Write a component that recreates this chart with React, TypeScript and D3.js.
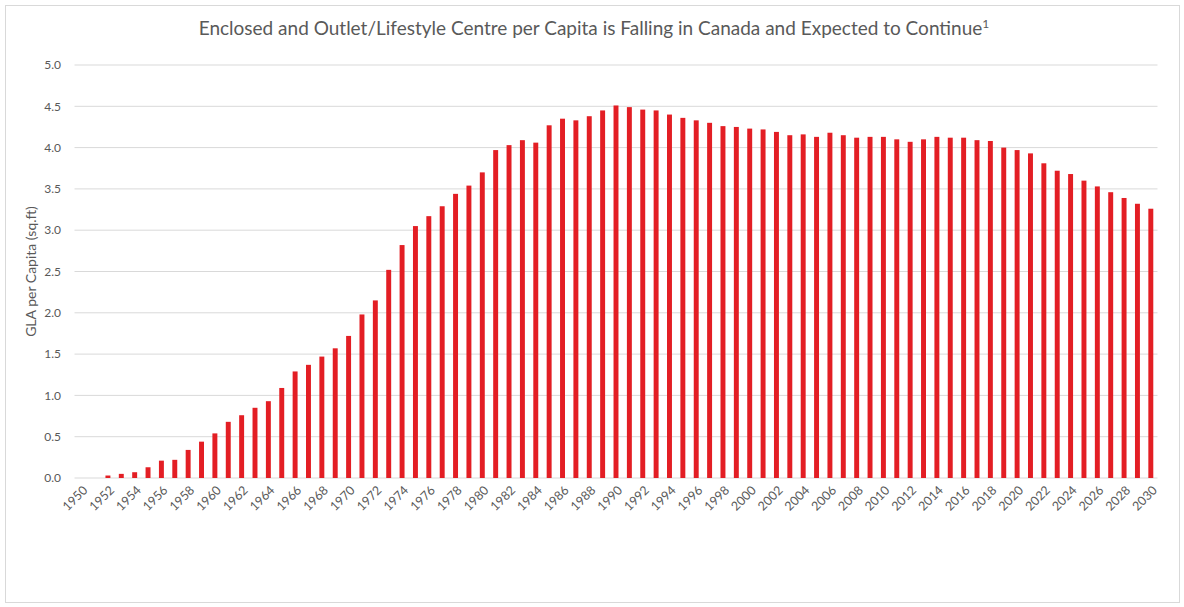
import React from "react";
import * as d3 from "d3";

const years: number[] = d3.range(1950, 2031);
const values: number[] = [
  0, 0, 0.03, 0.05, 0.07, 0.13, 0.21, 0.22, 0.34, 0.44,
  0.54, 0.68, 0.76, 0.85, 0.93, 1.09, 1.29, 1.37, 1.47, 1.57,
  1.72, 1.98, 2.15, 2.52, 2.82, 3.05, 3.17, 3.29, 3.44, 3.54,
  3.70, 3.97, 4.03, 4.09, 4.06, 4.27, 4.35, 4.33, 4.38, 4.45,
  4.51, 4.49, 4.46, 4.45, 4.40, 4.36, 4.33, 4.30, 4.26, 4.25,
  4.23, 4.22, 4.19, 4.15, 4.16, 4.13, 4.18, 4.15, 4.12, 4.13,
  4.13, 4.10, 4.07, 4.10, 4.13, 4.12, 4.12, 4.09, 4.08, 4.00,
  3.97, 3.93, 3.81, 3.72, 3.68, 3.60, 3.53, 3.46, 3.39, 3.32,
  3.26,
];
const yTicks: number[] = [0, 0.5, 1, 1.5, 2, 2.5, 3, 3.5, 4, 4.5, 5];
const title = "Enclosed and Outlet/Lifestyle Centre per Capita is Falling in Canada and Expected to Continue";
const yTitle = "GLA per Capita (sq.ft)";

const W = 1184;
const H = 607;
const M = { left: 74.5, right: 1157.5, top: 65, bottom: 478 };
const FONT = "Lato, 'Open Sans', sans-serif";
const TEXT = "#595959";
const GRID = "#d9d9d9";
const RED = "#e31e24";

export default function App() {
  const x = d3
    .scaleBand<string>()
    .domain(years.map(String))
    .range([M.left, M.right])
    .paddingInner(0.63)
    .paddingOuter(0.315);
  const y = d3.scaleLinear().domain([0, 5]).range([M.bottom, M.top]);

  return (
    <div style={{ position: "fixed", left: 0, top: 0 }}>
      <svg width={W} height={H} style={{ display: "block", background: "#fff" }}>
        <rect x={5.5} y={5.5} width={1174} height={597} fill="#fff" stroke={GRID} strokeWidth={1} />
        <text
          x={594}
          y={34.5}
          textAnchor="middle"
          fontFamily={FONT}
          fontSize={19}
          fill={TEXT}
        >
          {title}
          <tspan fontSize={12} dy={-7}>1</tspan>
        </text>
        {yTicks.map((t) => (
          <g key={t}>
            <line x1={M.left} x2={M.right} y1={y(t)} y2={y(t)} stroke={GRID} strokeWidth={1} />
            <text
              x={61}
              y={y(t)}
              dy="0.35em"
              textAnchor="end"
              fontFamily={FONT}
              fontSize={12}
              fill={TEXT}
            >
              {t.toFixed(1)}
            </text>
          </g>
        ))}
        <text
          transform={`translate(36,${(M.top + M.bottom) / 2}) rotate(-90)`}
          textAnchor="middle"
          fontFamily={FONT}
          fontSize={14}
          fill={TEXT}
        >
          {yTitle}
        </text>
        {years.map((yr, i) =>
          values[i] > 0 ? (
            <rect
              key={yr}
              x={x(String(yr))!}
              y={y(values[i])}
              width={x.bandwidth()}
              height={y(0) - y(values[i])}
              fill={RED}
            />
          ) : null
        )}
        {years
          .filter((yr) => yr % 2 === 0)
          .map((yr) => {
            const cx = x(String(yr))! + x.bandwidth() / 2;
            return (
              <text
                key={yr}
                transform={`translate(${cx + 4},${M.bottom + 10}) rotate(-45)`}
                textAnchor="end"
                dy="0.35em"
                fontFamily={FONT}
                fontSize={12.5}
                fill={TEXT}
              >
                {yr}
              </text>
            );
          })}
      </svg>
    </div>
  );
}
